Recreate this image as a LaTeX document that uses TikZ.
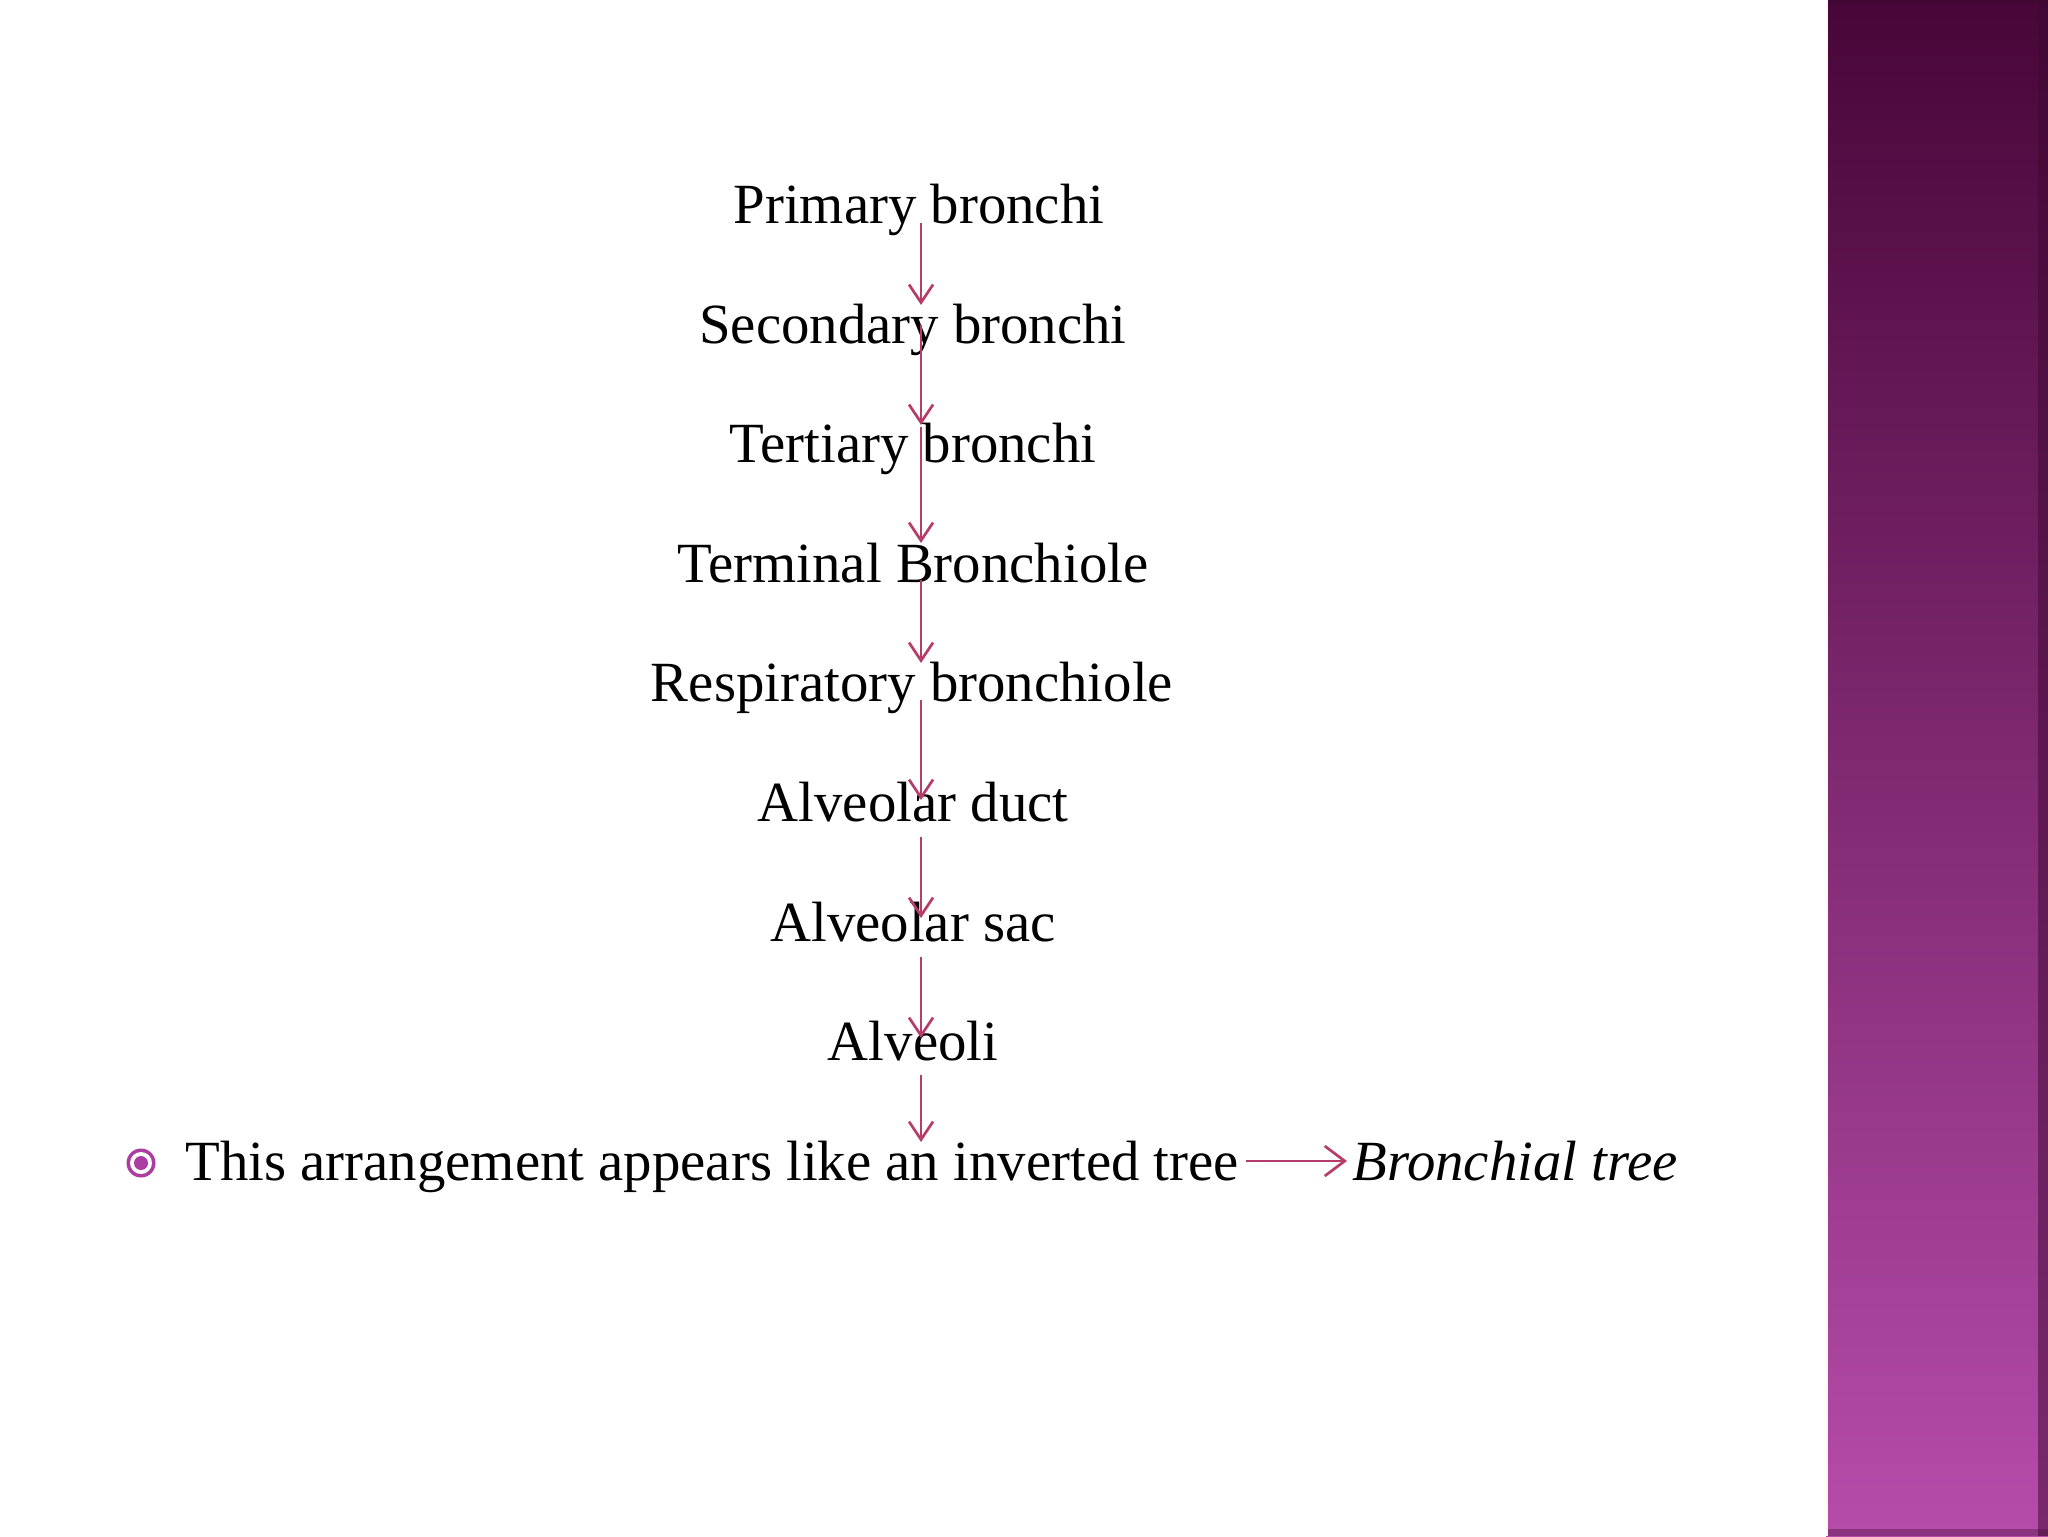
\documentclass[tikz,border=0pt]{standalone}
\usepackage{fontspec}
\setmainfont{Liberation Serif}
\usetikzlibrary{arrows.meta}
\definecolor{arrowcol}{RGB}{182,60,108}
\definecolor{bulletcol}{RGB}{170,60,162}
\definecolor{paneltop}{RGB}{72,6,56}
\definecolor{panelmid}{RGB}{136,50,120}
\definecolor{panelbot}{RGB}{182,76,170}
\definecolor{paneledge}{RGB}{60,10,48}
\tikzset{
  lbl/.style={anchor=base, inner sep=0pt, font=\fontsize{28.4}{34}\selectfont, text=black},
  lblw/.style={anchor=base west, inner sep=0pt, font=\fontsize{28.4}{34}\selectfont, text=black},
  varr/.style={draw=arrowcol, line width=1.35pt, -{Straight Barb[length=9pt,width=12pt]}},
  harr/.style={draw=arrowcol, line width=1.35pt, -{Straight Barb[length=10pt,width=15pt]}}
}
\begin{document}
\begin{tikzpicture}[x=0.5pt,y=-0.5pt]
\useasboundingbox (0,0) rectangle (2048,1536);
\fill[white] (0,0) rectangle (2048,1536);
% right decorative panel
\shade[top color=paneltop, middle color=panelmid, bottom color=panelbot] (1826,0) rectangle (2048,1536);
\fill[paneledge, opacity=0.5] (2038,0) rectangle (2048,1536);
\fill[paneledge, opacity=0.35] (1826,0) rectangle (2048,4);
\fill[paneledge, opacity=0.35] (1826,1529) rectangle (2048,1536);
\draw[white!85!pink, line width=0.6pt] (1827,0) -- (1827,1536);

% chain of terms
\node[lbl] (n1) at (919,223) {Primary bronchi};
\node[lbl] (n2) at (913,343) {Secondary bronchi};
\node[lbl] (n3) at (913,462) {Tertiary bronchi};
\node[lbl] (n4) at (913,582) {Terminal Bronchiole};
\node[lbl] (n5) at (912,701) {Respiratory bronchiole};
\node[lbl] (n6) at (913,821) {Alveolar duct};
\node[lbl] (n7) at (913,941) {Alveolar sac};
\node[lbl] (n8) at (913,1060) {Alveoli};

% bullet line
\fill[bulletcol] (141,1163) circle (14.5);
\fill[white] (141,1163) circle (11);
\fill[bulletcol] (141,1163) circle (7);
\node[lblw] (b1) at (185,1180) {This arrangement appears like an inverted tree};
\node[lblw] (b2) at (1352,1180) {\itshape Bronchial tree};

% arrow end points
\coordinate (a1s) at (921,223);  \coordinate (a1e) at (921,305);
\coordinate (a2s) at (921,325);  \coordinate (a2e) at (921,425);
\coordinate (a3s) at (921,427);  \coordinate (a3e) at (921,543);
\coordinate (a4s) at (921,580);  \coordinate (a4e) at (921,663);
\coordinate (a5s) at (921,700);  \coordinate (a5e) at (921,800);
\coordinate (a6s) at (921,837);  \coordinate (a6e) at (921,918);
\coordinate (a7s) at (921,957);  \coordinate (a7e) at (921,1038);
\coordinate (a8s) at (921,1075); \coordinate (a8e) at (921,1142);
\coordinate (hs) at (1246,1161); \coordinate (he) at (1347,1161);

\draw[varr] (a1s) -- (a1e);
\draw[varr] (a2s) -- (a2e);
\draw[varr] (a3s) -- (a3e);
\draw[varr] (a4s) -- (a4e);
\draw[varr] (a5s) -- (a5e);
\draw[varr] (a6s) -- (a6e);
\draw[varr] (a7s) -- (a7e);
\draw[varr] (a8s) -- (a8e);
\draw[harr] (hs) -- (he);
\end{tikzpicture}
\end{document}
